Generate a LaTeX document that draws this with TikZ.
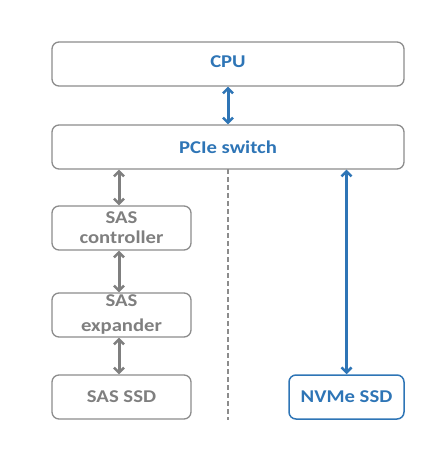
\documentclass[tikz,border=0pt]{standalone}
\usepackage{fontspec}
\setmainfont{Carlito}[FakeStretch=1.15]
\usetikzlibrary{arrows.meta}
\definecolor{boxgray}{HTML}{8C8C8C}
\definecolor{txtgray}{HTML}{7F7F7F}
\definecolor{arrgray}{HTML}{7F7F7F}
\definecolor{myblue}{HTML}{2E75B6}
\tikzset{
  gbox/.style={draw=boxgray, line width=1.3pt, rounded corners=7pt, inner sep=0pt, font=\fontsize{18}{20}\selectfont\bfseries, align=center},
  bbox/.style={draw=myblue, line width=1.5pt, rounded corners=7pt, inner sep=0pt, font=\fontsize{18}{20}\selectfont\bfseries, text=myblue, align=center},
  garr/.style={draw=arrgray, line width=3pt, {Straight Barb[length=5pt,width=10pt,line width=2.5pt]}-{Straight Barb[length=5pt,width=10pt,line width=2.5pt]}},
  barr/.style={draw=myblue, line width=3pt, {Straight Barb[length=5pt,width=10pt,line width=2.5pt]}-{Straight Barb[length=5pt,width=10pt,line width=2.5pt]}},
  sep/.style={draw=boxgray, line width=1.3pt, dash pattern=on 5pt off 3pt},
}
\begin{document}
\begin{tikzpicture}[x=1pt,y=-1pt]
\useasboundingbox (0,0) rectangle (424,454);
\node[gbox, text=myblue, minimum width=352pt, minimum height=44pt] (cpu) at (228,64) {\raisebox{4pt}{CPU}};
\node[gbox, text=myblue, minimum width=352pt, minimum height=44pt] (pcie) at (228,147) {\raisebox{-4pt}{PCIe switch}};
\node[gbox, text=txtgray, minimum width=139pt, minimum height=44pt] (ctrl) at (121.5,228) {SAS\\controller};
\node[gbox, text=txtgray, minimum width=139pt, minimum height=44pt] (exp) at (121.5,315) {SAS\\[5pt]expander};
\node[gbox, text=txtgray, minimum width=139pt, minimum height=44pt] (sas) at (121.5,397) {SAS SSD};
\node[bbox, minimum width=115pt, minimum height=44pt] (nvme) at (346.5,397) {NVMe SSD};
\coordinate (dtop) at (228,169);
\coordinate (dbot) at (228,420);
\draw[sep] (dtop) -- (dbot);
\draw[barr] (cpu.south) -- (pcie.north);
\draw[garr] (pcie.south -| ctrl.north) ++(-2.5,0) coordinate (a1) (a1) -- (a1 |- ctrl.north);
\draw[garr] (ctrl.south) ++(-2.5,0) coordinate (a2) (a2) -- (a2 |- exp.north);
\draw[garr] (exp.south) ++(-2.5,0) coordinate (a3) (a3) -- (a3 |- sas.north);
\draw[barr] (pcie.south -| nvme.north) -- (nvme.north);
\end{tikzpicture}
\end{document}
